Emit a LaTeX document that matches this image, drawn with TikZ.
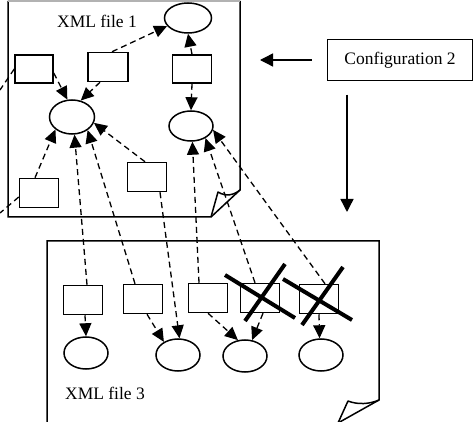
\documentclass[tikz,border=0pt]{standalone}
\usepackage{fontspec}
\setmainfont{Liberation Serif}
\usetikzlibrary{shapes.geometric,arrows.meta}
\begin{document}
\begin{tikzpicture}[x=1pt,y=-1pt,
 rbox/.style={draw, line width=1.5pt, minimum width=39pt, minimum height=29pt, inner sep=0pt},
 ell/.style={draw, ellipse, line width=1.5pt, minimum width=44pt, minimum height=32pt, inner sep=0pt},
 dl/.style={dash pattern=on 6pt off 4pt, line width=1.3pt},
 da/.style={dl, -{Triangle[length=13pt,width=12pt]}},
 sa/.style={line width=1.4pt, -{Triangle[length=13pt,width=13pt]}},
 filebox/.style={line width=1.5pt, line join=miter},
 cross/.style={line width=4pt},
 lbl/.style={font=\fontsize{17.5}{20}\selectfont, inner sep=0pt}]
\useasboundingbox (0,0) rectangle (474,422);
\fill[white] (0,0) rectangle (474,422);

% file boxes
\draw[filebox] (240,1) -- (240,190) -- (211,217) -- (8,217) -- (8,1);
\draw[line width=2pt, gray!60] (8,1) -- (240,1);
\draw[filebox, line join=round] (211,217) -- (218,192) .. controls (226,197) and (234,195) .. (240,190);
\draw[filebox] (47,425) -- (47,241) -- (379,241) -- (379,400) -- (338,423);
\draw[filebox, line join=round] (338,423) -- (348,401) .. controls (358,405) and (370,404) .. (379,400);

% top file nodes
\node[ell, minimum width=47pt, minimum height=30pt] (eT) at (188,18) {};
\node[rbox, minimum width=38pt, minimum height=28pt] (rA) at (34,69) {};
\node[rbox, minimum width=40pt] (rB) at (108,67) {};
\node[rbox, minimum height=28pt] (rC) at (192,69) {};
\node[ell, minimum width=45pt, minimum height=34pt] (eL) at (72,117) {};
\node[ell, minimum height=30pt] (eR) at (191,126) {};
\node[rbox] (rD) at (39,193) {};
\node[rbox] (rE) at (147,177) {};
\node[lbl] (t1) at (97,21) {XML file 1};

% bottom file nodes
\node[rbox] (r1) at (83,300) {};
\node[rbox] (r2) at (143,299) {};
\node[rbox] (r3) at (208,298) {};
\node[rbox] (r4) at (260,298) {};
\node[rbox] (r5) at (319,299) {};
\node[ell] (e1) at (86,353) {};
\node[ell] (e2) at (178,355) {};
\node[ell] (e3) at (245,356) {};
\node[ell] (e4) at (321,355) {};
\node[lbl] (t3) at (105,393) {XML file 3};

% configuration
\node[draw, line width=1.3pt, minimum width=145pt, minimum height=41pt, lbl] (cfg) at (400,60) {Configuration 2};
\coordinate (cb) at (260,60);
\coordinate (cd) at (347,212);
\draw[sa] ([xshift=-15pt]cfg.west) -- (cb);
\draw[sa] ([xshift=-53pt,yshift=-13.5pt]cfg.south) -- (cd);

% connectors in top file
\draw[da] ([xshift=4pt]rB.north) -- (eT.201);
\draw[da] (rC.north) -- (eT.south);
\draw[da] (rC.south) -- (eR.north);
\draw[da] ([yshift=-4pt]rA.east) -- (eL.105);
\draw[da] ([xshift=-8pt]rB.south) -- (eL.62);
\draw[da] ([xshift=-4pt]rD.north) -- (eL.217);
\draw[da] ([xshift=-2pt]rE.north) -- (eL.-15);
\coordinate (oA) at (0,90);
\coordinate (oD) at (0,213);
\draw[dl] (rA.west) -- (oA);
\draw[dl] ([yshift=-4pt]rD.west) -- (oD);

% connectors between files
\draw[da] ([xshift=4pt]r1.north) -- (eL.-82);
\draw[da] ([xshift=-8pt]r2.north) -- (eL.-40);
\draw[da] ([xshift=-9pt]r3.north) -- (eR.-85);
\draw[da] ([xshift=-5pt]r4.north) -- (eR.-40);
\draw[da] ([xshift=6pt]r5.north) -- (eR.-10);
\draw[da] ([xshift=13pt]rE.south) -- (e2.85);

% connectors in bottom file
\draw[da] ([xshift=2pt]r1.south) -- (e1.north);
\draw[da] ([xshift=4pt]r2.south) -- (e2.137);
\draw[da] (r3.south) -- (e3.114);
\draw[da] ([xshift=3pt]r4.south) -- (e3.66);
\draw[da] (r5.south) -- (e4.95);

% crosses
\draw[cross] (225,275) -- (295,318);
\draw[cross] (285,264) -- (245,321);
\draw[cross] (283,279) -- (352,320);
\draw[cross] (343,267) -- (302,325);
\end{tikzpicture}
\end{document}
